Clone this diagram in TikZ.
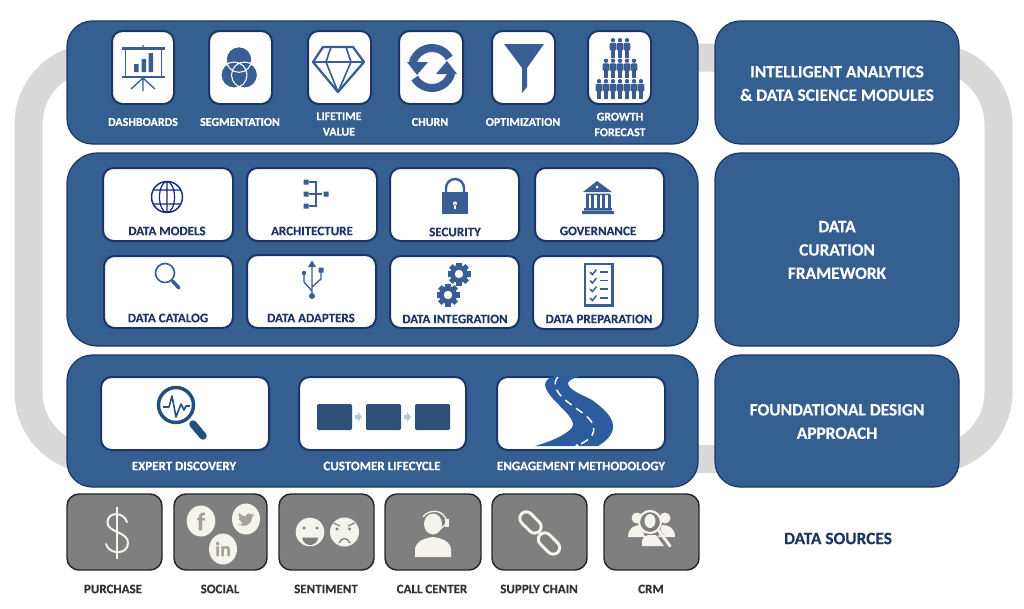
\documentclass[tikz,border=0pt]{standalone}
\usepackage{fontspec}
\setmainfont[BoldFeatures={FakeBold=0.25}]{Carlito}
\definecolor{panel}{HTML}{365F91}
\definecolor{navy}{HTML}{1B3664}
\definecolor{icon}{HTML}{3A5D94}
\definecolor{ink}{HTML}{1F3468}
\definecolor{srcgray}{HTML}{7F7F7F}
\definecolor{ring}{HTML}{D9D9D9}
\definecolor{cream}{HTML}{F4F3EC}
\definecolor{glyph}{HTML}{A3A297}
\definecolor{roadblue}{HTML}{2C5C9E}
\definecolor{stepblue}{HTML}{2F5076}
\definecolor{steparrow}{HTML}{B5CBD8}
\definecolor{lensblue}{HTML}{234F7D}
\tikzset{
  every node/.style={inner sep=0pt,outer sep=0pt},
  panelbox/.style={draw=navy,line width=0.9pt,fill=panel,rounded corners=19pt},
  midpanel/.style={panelbox,rounded corners=23pt},
  whitebox/.style={draw=navy,line width=1.5pt,fill=white,rounded corners=8pt},
  srcbox/.style={draw=black!85,line width=1.1pt,fill=srcgray,rounded corners=9pt},
  whitelabel/.style={text=white,font=\bfseries\fontsize{9pt}{11.7pt}\selectfont,align=center},
  widelabel/.style={text=white,font=\bfseries\fontsize{9.75pt}{11.7pt}\selectfont,align=center},
  inklabel/.style={text=ink,font=\bfseries\fontsize{9.75pt}{11.7pt}\selectfont,align=center},
  srclabel/.style={text=black!80,font=\bfseries\fontsize{9.75pt}{11.7pt}\selectfont,align=center},
  titlelabel/.style={text=white,font=\bfseries\fontsize{13pt}{17.5pt}\selectfont,align=center},
  srctitle/.style={text=navy,font=\bfseries\fontsize{13pt}{15pt}\selectfont,align=center},
}
\newcommand\pbox[6]{%
  \pgfmathsetmacro\pw{(#4-#2)*0.75}\pgfmathsetmacro\ph{(#5-#3)*0.75}%
  \node[#6,minimum width=\pw pt,minimum height=\ph pt] (#1) at ({(#2+#4)/2},{(#3+#5)/2}) {};}
\newcommand\personicon[2]{%
  \fill[icon] (#1,#2+2.2) circle (2.2);
  \fill[icon,rounded corners=1pt] (#1-3.4,#2+4.8) rectangle (#1+3.4,#2+12.5);
  \fill[icon] (#1-2.2,#2+11) rectangle (#1-0.3,#2+19.5);
  \fill[icon] (#1+0.3,#2+11) rectangle (#1+2.2,#2+19.5);}
\newcommand\gearicon[2]{%
  \foreach \a in {0,45,90,135}{\fill[icon,shift={(#1,#2)},rotate=\a] (-2.6,-11.5) rectangle (2.6,11.5);}
  \fill[icon] (#1,#2) circle (9);
  \fill[white] (#1,#2) circle (4.2);}
\begin{document}
\begin{tikzpicture}[x=0.75pt,y=-0.75pt]
\useasboundingbox (0,0) rectangle (1024,608);
\fill[white] (0,0) rectangle (1024,608);
% ring
\draw[ring,line width=21pt,rounded corners=50pt] (28.5,57.5) rectangle (998.5,459);
% panels
\pbox{top}{67}{21}{698}{144}{panelbox}
\pbox{mid}{67}{153}{698}{346}{midpanel}
\pbox{low}{67}{355}{698}{487}{panelbox}
\pbox{rtop}{715}{21}{959}{144}{panelbox}
\pbox{rmid}{715}{153}{959}{346}{panelbox}
\pbox{rlow}{715}{355}{959}{487}{panelbox}
\node[titlelabel] (trtop) at (837,83.5) {INTELLIGENT ANALYTICS\\\& DATA SCIENCE MODULES};
\node[titlelabel] (trmid) at (837,250) {DATA\\CURATION\\FRAMEWORK};
\node[titlelabel] (trlow) at (837,421.5) {FOUNDATIONAL DESIGN\\APPROACH};
\node[srctitle] (tsrc) at (838,538.5) {DATA SOURCES};
% top boxes
\pbox{b1}{112}{31}{174}{104}{whitebox}
\pbox{b2}{209}{31}{272}{104}{whitebox}
\pbox{b3}{308}{31}{371}{104}{whitebox}
\pbox{b4}{399}{31}{463}{104}{whitebox}
\pbox{b5}{492}{31}{555}{104}{whitebox}
\pbox{b6}{588}{31}{651}{104}{whitebox}
\node[whitelabel] (l1) at (143,122) {DASHBOARDS};
\node[whitelabel] (l2) at (240,122) {SEGMENTATION};
\node[whitelabel] (l3) at (339,124) {LIFETIME\\VALUE};
\node[whitelabel] (l4) at (430,122) {CHURN};
\node[whitelabel] (l5) at (523,122) {OPTIMIZATION};
\node[whitelabel] (l6) at (620,124.5) {GROWTH\\FORECAST};
% dashboard icon
\draw[icon,line width=1.6pt] (122,48.5) -- (165,48.5);
\draw[icon,line width=1.6pt] (122,77) -- (165,77);
\draw[icon,line width=1.3pt] (125.5,48) -- (125.5,77) (161.5,48) -- (161.5,77);
\draw[icon,line width=1pt] (143,45) -- (143,48) (143,77) -- (143,91) (143,78) -- (131,89) (143,78) -- (155,89);
\fill[icon] (134,64) rectangle (138.5,72) (141.5,59) rectangle (146,72) (148.5,53) rectangle (153,72);
% segmentation icon
\fill[icon] (239,59.5) circle (12.8) (234,75) circle (13) (244.5,75) circle (13);
\draw[white,line width=0.8pt] (239,59.5) circle (12.8) (234,75) circle (13) (244.5,75) circle (13);
% diamond icon
\draw[icon,line width=1.7pt,line join=round] (323,47) -- (353,47) -- (364,62) -- (338,92) -- (313,62) -- cycle;
\draw[icon,line width=1.2pt,line join=round] (313,62) -- (364,62) (331,47) -- (326,62) -- (338,92) -- (351,62) -- (346,47);
% churn icon
\draw[icon,line width=6pt] ({432+20*cos(-30)},{68+20*sin(-30)}) arc[start angle=-30,end angle=-165,radius=20];
\fill[icon] (407,62) -- (428,62) -- (417,75) -- cycle;
\draw[icon,line width=6pt] ({432+20*cos(150)},{68+20*sin(150)}) arc[start angle=150,end angle=15,radius=20];
\fill[icon] (457,74) -- (436,74) -- (447,61) -- cycle;
% funnel icon
\fill[icon] (504,44) -- (544,44) -- (527,68) -- (527,87) -- (522,93) -- (522,68) -- cycle;
% people icon
\foreach \px in {613,620,627}{\personicon{\px}{38}}
\foreach \px in {606,613,620,627,634}{\personicon{\px}{58.5}}
\foreach \px in {599,606,613,620,627,634,641}{\personicon{\px}{79}}
% middle boxes
\pbox{c1}{103}{168}{233}{241}{whitebox}
\pbox{c2}{247}{168}{377}{241}{whitebox}
\pbox{c3}{390}{168}{519}{241}{whitebox}
\pbox{c4}{535}{168}{664}{241}{whitebox}
\pbox{c5}{104}{256}{233}{328}{whitebox}
\pbox{c6}{247}{255}{376}{328}{whitebox}
\pbox{c7}{390}{256}{519}{328}{whitebox}
\pbox{c8}{533}{256}{663}{329}{whitebox}
\node[inklabel] (m1) at (167,231) {DATA MODELS};
\node[inklabel] (m2) at (312,231) {ARCHITECTURE};
\node[inklabel] (m3) at (455,232) {SECURITY};
\node[inklabel] (m4) at (598,231) {GOVERNANCE};
\node[inklabel] (m5) at (168,318) {DATA CATALOG};
\node[inklabel] (m6) at (311,318) {DATA ADAPTERS};
\node[inklabel] (m7) at (455,319) {DATA INTEGRATION};
\node[inklabel] (m8) at (599,319) {DATA PREPARATION};
% globe
\draw[navy!80!blue,line width=1.1pt] (167,197) circle (15.5);
\draw[navy!80!blue,line width=0.9pt] (167,197) ellipse (7.5 and 15.5) (167,181.5) -- (167,212.5) (153,190) -- (181,190) (153,204) -- (181,204);
% architecture
\fill[icon] (303.5,179.5) rectangle (308.5,184.5) (303.5,191.5) rectangle (308.5,196.5) (303.5,203.5) rectangle (308.5,208.5) (323.5,191.5) rectangle (328.5,196.5);
\draw[icon,line width=0.9pt] (309,182) -- (316,182) -- (316,206) -- (309,206) (309,194) -- (322,194);
% catalog
\draw[icon,line width=1.2pt] (165,273) circle (9.5);
\draw[icon,line width=2.6pt,line cap=round] (172.5,281) -- (179,288);
% usb
\draw[icon,line width=1pt] (312,264) -- (312,296) (304,274) -- (304,282) -- (312,291) (321,271) -- (321,279) -- (312,287);
\fill[icon] (312,260.5) -- (316,267) -- (308,267) -- cycle;
\fill[icon] (312,296) circle (3) (304,273) circle (2.2) (318.5,267.5) rectangle (323.5,272.5);
% lock
\draw[icon,line width=1.8pt] (446,193) -- (446,188) arc[start angle=180,end angle=360,radius=9] -- (464,193);
\fill[icon] (442,192) rectangle (468,214);
\fill[white] (455,203.5) circle (2) (454.2,204) rectangle (455.8,209);
% governance
\fill[icon] (597,181) -- (612,192) -- (583,192) -- cycle;
\fill[white] (597,187) circle (1.5);
\fill[icon] (586,193.5) rectangle (610,195) (584,208) rectangle (612,210.5) (582,211) rectangle (614,214);
\foreach \cx in {587,592.5,598,603.5,609}{\fill[icon] (\cx-1.5,195) rectangle (\cx+1.5,208);}
% gears
\gearicon{459}{274}
\gearicon{448}{295}
% checklist
\draw[icon,line width=2pt] (585,264) rectangle (612.5,305.5);
\foreach \cy in {272,280.5,289,298}{
  \draw[icon,line width=1.1pt] (590,\cy) -- (592.5,\cy+2.5) -- (596.5,\cy-2.5);
  \draw[icon,line width=0.9pt] (600,\cy) -- (608,\cy);}
% bottom boxes
\pbox{d1}{101}{377}{269}{450}{whitebox}
\pbox{d2}{299}{377}{466}{450}{whitebox}
\pbox{d3}{497}{377}{665}{450}{whitebox}
\node[widelabel] (e1) at (184,466) {EXPERT DISCOVERY};
\node[widelabel] (e2) at (382,466) {CUSTOMER LIFECYCLE};
\node[widelabel] (e3) at (581,466) {ENGAGEMENT METHODOLOGY};
% expert lens
\draw[lensblue,line width=2.6pt] (176,405) circle (17.5);
\draw[lensblue,line width=5.6pt,line cap=round] (193,424) -- (203,436);
\draw[lensblue,line width=1.2pt,line join=round] (163,407) -- (169,407) -- (172,396) -- (176,417) -- (181,404) -- (184,410) -- (186,406) -- (190,406);
% lifecycle
\fill[stepblue,rounded corners=1pt] (317,404) rectangle (352,430);
\fill[stepblue,rounded corners=1pt] (366,404) rectangle (401,430);
\fill[stepblue,rounded corners=1pt] (415,404) rectangle (450,430);
\fill[steparrow] (355,415) -- (358,415) -- (358,412) -- (362,417) -- (358,422) -- (358,419) -- (355,419) -- cycle;
\fill[steparrow] (404,415) -- (407,415) -- (407,412) -- (411,417) -- (407,422) -- (407,419) -- (404,419) -- cycle;
% road
\fill[roadblue] (555,376) .. controls (549,377) and (545,381) .. (545,385)
  .. controls (546,392) and (553,399) .. (560,406)
  .. controls (566,412) and (573,419) .. (573,425)
  .. controls (572,432) and (553,441) .. (535,446)
  -- (575,446) -- (577,443.5) -- (579,446) -- (598,446)
  .. controls (607,441) and (614,433) .. (613,425)
  .. controls (612,416) and (603,408) .. (592,400)
  .. controls (583,395) and (568,390) .. (568,383)
  .. controls (569,380) and (574,378) .. (580,376) -- cycle;
\draw[white,line width=1.1pt,dash pattern=on 6pt off 4.2pt] (558,377) .. controls (553,382) and (555,390) .. (562,397) .. controls (570,405) and (586,414) .. (591,421) .. controls (596,428) and (594,434) .. (589,439) -- (581,444);
% sources
\pbox{s1}{67}{494}{162}{570}{srcbox}
\pbox{s2}{174}{494}{267}{570}{srcbox}
\pbox{s3}{279}{494}{374}{570}{srcbox}
\pbox{s4}{385}{494}{481}{570}{srcbox}
\pbox{s5}{492}{494}{587}{570}{srcbox}
\pbox{s6}{604}{494}{699}{570}{srcbox}
\node[srclabel] (p1) at (113,589) {PURCHASE};
\node[srclabel] (p2) at (220,589) {SOCIAL};
\node[srclabel] (p3) at (326,589) {SENTIMENT};
\node[srclabel] (p4) at (432,589) {CALL CENTER};
\node[srclabel] (p5) at (539,589) {SUPPLY CHAIN};
\node[srclabel] (p6) at (651,589) {CRM};
% dollar
\draw[cream,line width=1.5pt,line cap=round] (127,522) .. controls (124,512) and (108,511) .. (107.5,522)
  .. controls (107,533) and (128,531) .. (128,543) .. controls (128,555) and (109,555) .. (106,544);
\draw[cream,line width=1.5pt] (117,507) -- (117,559);
% social
\fill[cream] (201,521) ellipse (14.3 and 15.5) (246,519) ellipse (14 and 15.5) (223,549) ellipse (14 and 15.5);
\node[text=glyph,font=\bfseries\fontsize{19pt}{19pt}\selectfont] (gf) at (201,521.5) {f};
\node[text=glyph,font=\bfseries\fontsize{15pt}{15pt}\selectfont] (gin) at (223,549) {in};
\fill[glyph] (238,524) .. controls (243,528) and (252,526) .. (252,517) -- (254,515) -- (252,515.5) -- (253.5,513.5) -- (251,514.5) .. controls (249,512.5) and (245.5,514) .. (246,516.5) .. controls (243,516.5) and (241,515) .. (239,513) .. controls (238,515) and (238.5,517) .. (240,518) -- (238.5,518) .. controls (239,520) and (240,521) .. (242,521.5) -- (240.5,521.8) .. controls (241,523) and (242,523.5) .. (243.5,523.5) .. controls (242,524.5) and (240,524.5) .. (238,524) -- cycle;
% sentiment
\fill[cream] (310,532) circle (14.3) (344.5,532) circle (14.5);
\fill[srcgray] (304,528) circle (1.7) (317,528) circle (1.7) (337,529) circle (1.7) (349.5,529) circle (1.7);
\fill[srcgray] (302,537.5) .. controls (304,547.5) and (316,547.5) .. (318.5,537.5) -- cycle;
\draw[srcgray,line width=0.9pt] (333.5,523) -- (340,526) (354.5,523) -- (348,526);
\draw[srcgray,line width=1pt] (339,543) .. controls (342,537) and (347,537) .. (350,543);
% call center
\fill[cream] (415,557) -- (415,549) .. controls (416,541) and (425,538) .. (433,537) .. controls (441,538) and (450,541) .. (451,549) -- (451,557) -- cycle;
\fill[cream] (433,524) ellipse (9 and 10.5);
\draw[srcgray,line width=1.3pt] (424,515) .. controls (428,512) and (436,510) .. (441,516);
\draw[cream,line width=1pt] (423,517) .. controls (428,509) and (445,508) .. (447,523) -- (437,532);
\fill[cream] (445,519) rectangle (449,527);
% chain
\begin{scope}[shift={(530.5,522.5)},rotate=-45]
\draw[cream,line width=2.2pt,rounded corners=5pt] (-12.5,-6.5) rectangle (12.5,6.5);
\end{scope}
\begin{scope}[shift={(549,543.5)},rotate=-45]
\draw[cream,line width=2.2pt,rounded corners=5pt] (-12.5,-6.5) rectangle (12.5,6.5);
\end{scope}
% crm
\fill[cream] (637,518) circle (5.5) (665,518) circle (5.5);
\fill[cream] (628,537) .. controls (628,528) and (634,525) .. (641,525) -- (645,537) -- cycle;
\fill[cream] (675,537) .. controls (675,528) and (669,525) .. (662,525) -- (658,537) -- cycle;
\draw[cream,line width=1.6pt,fill=srcgray] (650,522) circle (11);
\fill[cream] (650,521) ellipse (5.5 and 7);
\fill[cream] (642,546) -- (642,541) .. controls (643,536) and (647,535) .. (650,535) -- (656,535) -- (664,546) -- cycle;
\draw[srcgray,line width=2.5pt] (659,531) -- (672,549);
\draw[cream,line width=2.2pt,line cap=round] (659,531) -- (670,546);
\end{tikzpicture}
\end{document}
